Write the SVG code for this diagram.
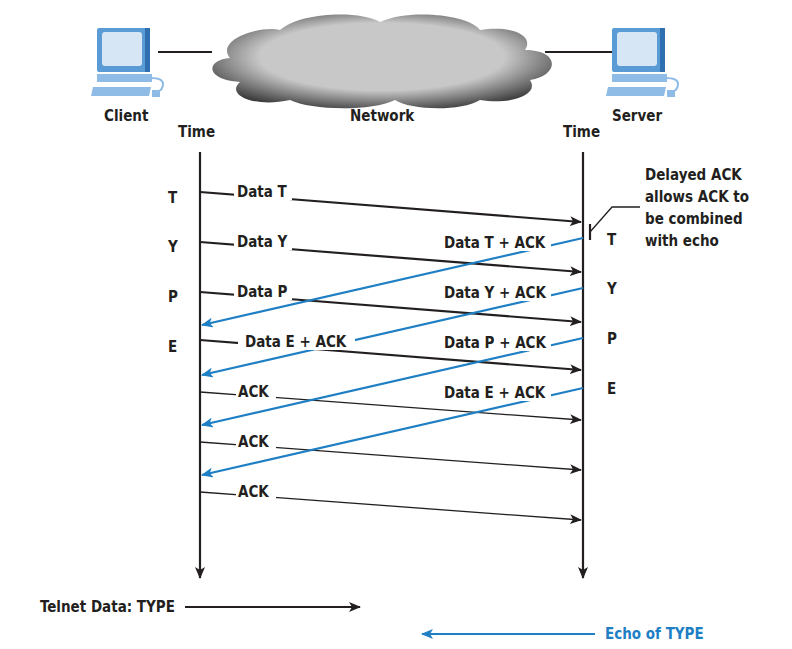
<svg xmlns="http://www.w3.org/2000/svg" width="792" height="649" viewBox="0 0 792 649">
<style>
text{font-family:"DejaVu Sans Condensed","Liberation Sans",sans-serif;font-weight:bold;font-size:15px;fill:#231f20}
.k{stroke:#231f20;stroke-width:2.2;fill:none}
.t{stroke:#231f20;stroke-width:1.3;fill:none}
.b{stroke:#1f7fc4;stroke-width:2.2;fill:none}
.bg{fill:#fff}
</style>
<defs>
<marker id="ak" markerWidth="12" markerHeight="10" refX="11" refY="5" orient="auto" markerUnits="userSpaceOnUse"><path d="M0,0 L12,5 L0,10 L3,5Z" fill="#231f20"/></marker>
<marker id="ab" markerWidth="12" markerHeight="10" refX="11" refY="5" orient="auto" markerUnits="userSpaceOnUse"><path d="M0,0 L12,5 L0,10 L3,5Z" fill="#1f7fc4"/></marker>
<radialGradient id="cg" cx="0.5" cy="0.45" r="0.6"><stop offset="0.6" stop-color="#c8c8c8"/><stop offset="1" stop-color="#3a3a3a"/></radialGradient>
<g id="pc">
<rect x="0" y="0" width="52" height="44" rx="2" fill="#5b9bd5"/>
<rect x="5" y="4" width="40" height="34" rx="3" fill="#d6e6f5"/>
<rect x="48" y="0" width="5" height="44" fill="#2f6fb0"/>
<rect x="0" y="46" width="55" height="8" fill="#8fbce6"/>
<path d="M-4,59 L54,59 L52,68 L-6,68Z" fill="#8fbce6"/>
<path d="M54,50 q12,0 12,6 q0,6 -6,8" stroke="#8fbce6" stroke-width="2" fill="none"/>
<rect x="55" y="62" width="8" height="7" fill="#8fbce6"/>
</g>
</defs>
<g id="client"><use href="#pc" x="97" y="28"/><text x="104" y="121">Client</text></g>
<g id="server"><use href="#pc" x="612" y="28"/><text x="612" y="121">Server</text></g>
<g id="network">
<path d="M230,58 C215,40 260,25 280,30 C300,12 360,10 380,22 C410,8 470,15 480,30 C510,25 535,35 525,50 C560,50 560,75 530,80 C540,95 510,105 480,100 C460,112 410,110 395,100 C370,112 310,110 290,100 C255,108 225,95 240,82 C205,80 205,60 230,58Z" fill="url(#cg)"/>
<text x="350" y="121">Network</text>
</g>
<g id="connectors">
<line x1="158" y1="52" x2="212" y2="52" class="k"/>
<line x1="545" y1="52" x2="612" y2="52" class="k"/>
<line x1="200" y1="152" x2="200" y2="578" class="k" marker-end="url(#ak)"/>
<line x1="583" y1="152" x2="583" y2="578" class="k" marker-end="url(#ak)"/>
<line x1="200" y1="192" x2="581" y2="222" class="k" marker-end="url(#ak)"/>
<line x1="200" y1="242" x2="581" y2="272" class="k" marker-end="url(#ak)"/>
<line x1="200" y1="292" x2="581" y2="322" class="k" marker-end="url(#ak)"/>
<line x1="200" y1="340" x2="581" y2="370" class="k" marker-end="url(#ak)"/>
<line x1="200" y1="392" x2="581" y2="420" class="t" marker-end="url(#ak)"/>
<line x1="200" y1="442" x2="581" y2="470" class="t" marker-end="url(#ak)"/>
<line x1="200" y1="492" x2="581" y2="520" class="t" marker-end="url(#ak)"/>
<line x1="583" y1="238" x2="202" y2="325" class="b" marker-end="url(#ab)"/>
<line x1="583" y1="288" x2="202" y2="375" class="b" marker-end="url(#ab)"/>
<line x1="583" y1="338" x2="202" y2="425" class="b" marker-end="url(#ab)"/>
<line x1="583" y1="388" x2="202" y2="475" class="b" marker-end="url(#ab)"/>
<polyline points="640,207 612,207 590,232" class="t"/>
<line x1="590" y1="224" x2="590" y2="240" class="k"/>
<line x1="185" y1="607" x2="360" y2="607" class="k" marker-end="url(#ak)"/>
<line x1="595" y1="634" x2="422" y2="634" class="b" marker-end="url(#ab)"/>
</g>
<g id="labels">
<text x="178" y="137">Time</text><text x="563" y="137">Time</text>
<text x="168" y="203">T</text><text x="168" y="252">Y</text><text x="168" y="302">P</text><text x="168" y="352">E</text>
<text x="607" y="245">T</text><text x="607" y="294">Y</text><text x="607" y="344">P</text><text x="607" y="394">E</text>
<rect class="bg" x="234" y="183" width="58" height="17"/><text x="237" y="197">Data T</text>
<rect class="bg" x="234" y="233" width="58" height="17"/><text x="237" y="247">Data Y</text>
<rect class="bg" x="234" y="283" width="58" height="17"/><text x="237" y="297">Data P</text>
<rect class="bg" x="238" y="333" width="117" height="17"/><text x="245" y="347">Data E + ACK</text>
<rect class="bg" x="236" y="384" width="40" height="16"/><text x="238" y="397">ACK</text>
<rect class="bg" x="236" y="434" width="40" height="16"/><text x="238" y="447">ACK</text>
<rect class="bg" x="236" y="484" width="40" height="16"/><text x="238" y="497">ACK</text>
<rect class="bg" x="442" y="234" width="109" height="17"/><text x="444" y="248">Data T + ACK</text>
<rect class="bg" x="442" y="284" width="109" height="17"/><text x="444" y="298">Data Y + ACK</text>
<rect class="bg" x="442" y="334" width="109" height="17"/><text x="444" y="348">Data P + ACK</text>
<rect class="bg" x="442" y="384" width="109" height="17"/><text x="444" y="398">Data E + ACK</text>
<text x="645" y="180">Delayed ACK</text>
<text x="645" y="202">allows ACK to</text>
<text x="645" y="224">be combined</text>
<text x="645" y="246">with echo</text>
<text x="40" y="612">Telnet Data: TYPE</text>
<text x="605" y="639" style="fill:#1f7fc4">Echo of TYPE</text>
</g>
</svg>
